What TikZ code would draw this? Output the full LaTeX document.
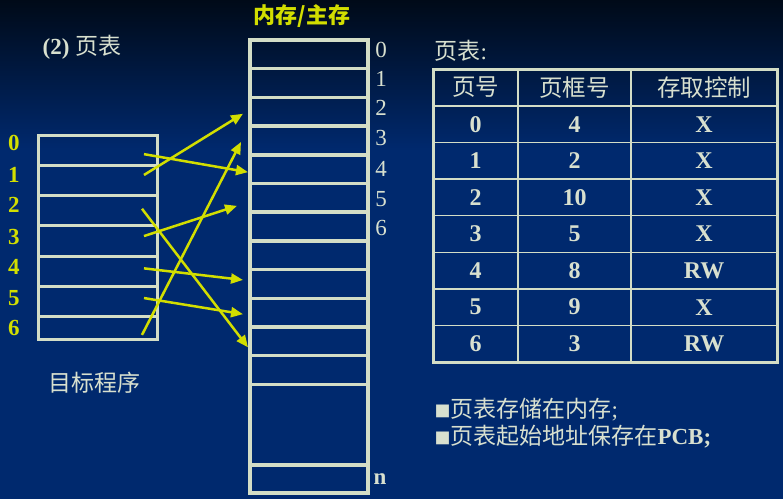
\documentclass[tikz,border=0pt]{standalone}
\usepackage{fontspec}
\setmainfont{Liberation Serif}
\newfontfamily\cjk{Noto Sans CJK SC}
\usetikzlibrary{arrows.meta,calc,positioning}

\definecolor{slidebg}{HTML}{00296E}
\definecolor{slidetop}{HTML}{000A18}
\definecolor{celline}{HTML}{D3DDC6}
\definecolor{markyellow}{HTML}{D2DE00}
\definecolor{paletext}{HTML}{D8E0CF}

\newcommand\notemark{{\fontsize{16}{16}\selectfont\cjk ■}}

\tikzset{
  pagecell/.style={draw=celline, line width=3pt, minimum width=119pt, inner sep=0pt, outer sep=0pt},
  framecell/.style={draw=celline, line width=3.5pt, minimum width=118pt, inner sep=0pt, outer sep=0pt},
  maparrow/.style={draw=markyellow, line width=2.5pt, -{Triangle[length=12pt,width=10pt]}},
  pagenum/.style={text=markyellow, font=\fontsize{23}{23}\selectfont\bfseries},
  framenum/.style={text=paletext, font=\fontsize{23}{23}\selectfont},
  celltext/.style={text=paletext, font=\fontsize{24}{24}\selectfont\bfseries},
  headtext/.style={text=paletext, font=\fontsize{23.5}{24}\selectfont\cjk},
  slidetext/.style={text=paletext, font=\fontsize{23}{24}\selectfont},
  tablerule/.style={draw=celline, line width=1.5pt}
}

\begin{document}
\begin{tikzpicture}[x=1pt,y=-1pt]
  \useasboundingbox (0,0) rectangle (783,499);
  % background
  \fill[slidebg] (0,0) rectangle (783,499);
  \shade[top color=slidetop, bottom color=slidebg] (0,0) rectangle (783,150);

  % titles
  \node[text=markyellow, font=\fontsize{22}{22}\selectfont\cjk\bfseries] (memtitle) at (302,16) {内存/主存};
  \node[slidetext] (pttitle) at (82,47) {\bfseries (2) {\cjk\mdseries 页表}};

  % target program pages
  \foreach \i/\yc/\h in {0/150.15/30.3, 1/180.45/30.3, 2/210.75/30.3, 3/241.05/30.3,
                         4/271.35/30.3, 5/301.65/30.3, 6/327.9/22.2}{
    \node[pagecell, minimum height=\h pt] (p\i) at (97.5,\yc) {};
  }
  \foreach \i/\yc in {0/143, 1/175, 2/205, 3/237, 4/267, 5/298, 6/328}
    \node[pagenum] (l\i) at (14,\yc) {\i};
  \node[slidetext, font=\fontsize{23}{24}\selectfont\cjk] (progname) at (94,383) {目标程序};

  % main memory frames
  \foreach \j in {0,...,11}
    \node[framecell, minimum height=28.7pt] (f\j) at (309,{54.35+28.7*\j}) {};
  \node[framecell, minimum height=80.6pt] (f12) at (309,424.7) {};
  \node[framecell, minimum height=28pt] (f13) at (309,479) {};
  \foreach \j/\yc in {0/50, 1/79, 2/108, 3/138, 4/169, 5/199, 6/228}
    \node[framenum] (m\j) at (381,\yc) {\j};
  \node[framenum, font=\fontsize{23}{23}\selectfont\bfseries] (mn) at (380,479) {n};

  % page -> frame
  \draw[maparrow] ($(p0.east)+(-13,4)$) -- ($(f4.west)+(-2,3)$);
  \draw[maparrow] ($(p1.east)+(-13,-5.5)$) -- ($(f2.west)+(-7,2)$);
  \draw[maparrow] ($(p2.east)+(-15,-2)$) -- ($(f10.west)+(-2,6)$);
  \draw[maparrow] ($(p3.east)+(-13,-5)$) -- ($(f5.west)+(-13,8)$);
  \draw[maparrow] ($(p4.east)+(-13,-3)$) -- ($(f8.west)+(-7,-4)$);
  \draw[maparrow] ($(p5.east)+(-13,-3.6)$) -- ($(f9.west)+(-7,1.5)$);
  \draw[maparrow] ($(p6.east)+(-15,7)$) -- ($(f3.west)+(-9,1.5)$);

  % page table
  \node[slidetext, anchor=west] (tabtitle) at (431,51) {{\cjk 页表}:};
  \foreach \y in {106,142.6,179.1,215.7,252.3,288.9,325.4}
    \draw[tablerule] (433,\y) -- (777,\y);
  \foreach \x in {518,631}
    \draw[tablerule] (\x,69) -- (\x,362);
  \draw[tablerule, line width=3pt] (433,69) rectangle (777,362);
  \node[headtext] (h0) at (475.5,87.5) {页号};
  \node[headtext] (h1) at (574.5,87.5) {页框号};
  \node[headtext] (h2) at (704,87.5) {存取控制};
  \foreach \r/\fr/\acc in {0/4/X, 1/2/X, 2/10/X, 3/5/X, 4/8/RW, 5/9/X, 6/3/RW}{
    \node[celltext] (c\r-0) at (475.5,{106+36.57*(\r+0.5)}) {\r};
    \node[celltext] (c\r-1) at (574.5,{106+36.57*(\r+0.5)}) {\fr};
    \node[celltext] (c\r-2) at (704,{106+36.57*(\r+0.5)}) {\acc};
  }

  % notes
  \node[slidetext, anchor=west] (note1) at (431,410) {\notemark{\cjk 页表存储在内存};};
  \node[slidetext, anchor=west] (note2) at (431,437) {\notemark{\cjk 页表起始地址保存在}\bfseries PCB;};
\end{tikzpicture}
\end{document}
